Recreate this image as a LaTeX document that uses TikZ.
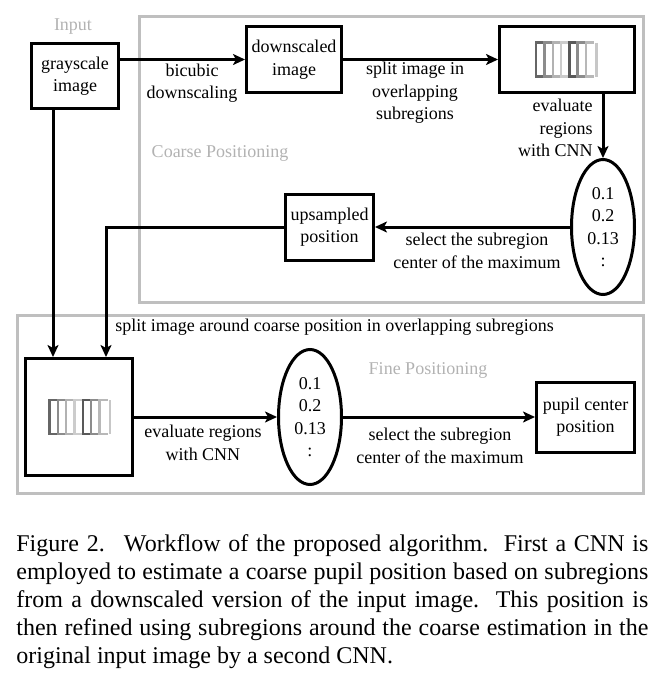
\documentclass[tikz,border=0pt]{standalone}
\usepackage{fontspec}
\setmainfont{Liberation Serif}
\usetikzlibrary{shapes.geometric,arrows.meta,calc}

\begin{document}
\begin{tikzpicture}[x=0.5pt, y=-0.5pt,
  font=\rmfamily\fontsize{9}{11.25}\selectfont,
  blk/.style={draw, line width=1.5pt, inner sep=0pt, align=center},
  oval/.style={draw, ellipse, line width=1.5pt, inner sep=0pt, align=center, minimum width=31.5pt, minimum height=67.5pt},
  frame/.style={draw=black!25, line width=1.5pt},
  tag/.style={text=black!30, inner sep=0pt},
  arr/.style={-{Stealth[length=6pt,width=5.5pt,inset=1.5pt]}, line width=1.5pt},
  bar/.style={line width=1.2pt},
  lbl/.style={align=center, inner sep=0pt}]
\useasboundingbox (0,0) rectangle (659,687);
% frames
\draw[frame] (139,16) rectangle (643,302);
\draw[frame] (17,315) rectangle (643,493);
\node[tag] (intag) at (73,27) {Input};
\node[tag] (cotag) at (220,153) {Coarse Positioning};
\node[tag] (fitag) at (428,370) {Fine Positioning};
% coarse positioning
\node[blk, minimum width=43.5pt, minimum height=32.5pt] (gray) at (75,76) {grayscale\\image};
\node[blk, minimum width=47.5pt, minimum height=33pt] (down) at (294,59.5) {downscaled\\image};
\node[blk, minimum width=67.5pt, minimum height=33pt] (cbox) at (567,59.5) {};
\foreach \i/\c in {0/60,1/45,2/30,3/20,4/65,5/45,6/28}
  \draw[bar, black!\c] ($(cbox.center)+(-22.6+\i*8.3,-17)$) -- ++(-8.3,0) -- ++(0,34) -- ++(8.3,0);
\draw[bar, black!22] ($(cbox.center)+(29.5,-17)$) -- ++(0,34);
\node[oval] (cell) at (603,227) {0.1\\0.2\\0.13\\:};
\node[blk, minimum width=44pt, minimum height=33pt] (ups) at (329.5,227) {upsampled\\position};
\draw[arr] (gray.east |- down.west) -- (down.west);
\draw[arr] (down.east) -- (cbox.west);
\draw[arr] (cell.north |- cbox.south) -- (cell.north);
\draw[arr] (cell.west) -- (ups.east);
\node[lbl] (bicub) at (192,83) {bicubic\\downscaling};
\node[lbl] (splitc) at (415,93) {split image in\\overlapping\\subregions};
\node[lbl, align=right, anchor=east] (evalc) at (593,128) {evaluate\\regions\\with CNN};
\node[lbl] (selc) at (477,251) {select the subregion\\center of the maximum};
% fine positioning
\node[blk, minimum width=53.5pt, minimum height=58.5pt] (fbox) at (79,417) {};
\foreach \i/\c in {0/60,1/45,2/30,3/20,4/65,5/45,6/28}
  \draw[bar, black!\c] ($(fbox.center)+(-21.1+\i*8.3,-17)$) -- ++(-8.3,0) -- ++(0,34) -- ++(8.3,0);
\draw[bar, black!22] ($(fbox.center)+(31,-17)$) -- ++(0,34);
\node[oval] (fell) at (310,417) {0.1\\0.2\\0.13\\:};
\node[blk, minimum width=49pt, minimum height=35pt] (pupil) at (585.5,417) {pupil center\\position};
\coordinate (fin1) at ($(fbox.north)+(-26,0)$);
\coordinate (fin2) at ($(fbox.north)+(27,0)$);
\draw[arr] (fin1 |- gray.south) -- (fin1);
\draw[arr] (ups.west) -| (fin2);
\draw[arr] (fbox.east) -- (fell.west);
\draw[arr] (fell.east) -- (pupil.west);
\node[lbl, anchor=west] (splitf) at (115,327) {split image around coarse position in overlapping subregions};
\node[lbl] (evalf) at (203,443) {evaluate regions\\with CNN};
\node[lbl] (self) at (440,446) {select the subregion\\center of the maximum};
% caption
\node[anchor=north west, inner sep=0pt, text width=316pt, align=justify, font=\rmfamily\fontsize{12}{14}\selectfont] (capt) at (16,534)
  {Figure 2.\hspace{0.8em}Workflow of the proposed algorithm.\ \ First a CNN is\linebreak
   employed to estimate a coarse pupil position based on subregions\linebreak
   from a downscaled version of the input image.\ \ This position is\linebreak
   then refined using subregions around the coarse estimation in the\linebreak
   original input image by a second CNN.};
\end{tikzpicture}
\end{document}
